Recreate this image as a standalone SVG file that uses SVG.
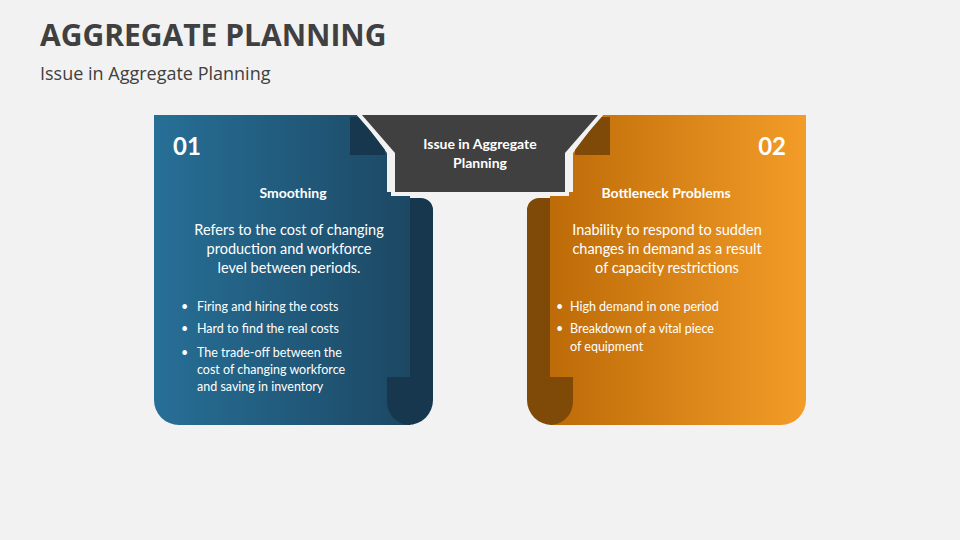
<svg xmlns="http://www.w3.org/2000/svg" width="960" height="540" viewBox="0 0 960 540">
<defs>
<linearGradient id="gb" x1="0" x2="1" y1="0" y2="0"><stop offset="0" stop-color="#276f97"/><stop offset="1" stop-color="#1c4863"/></linearGradient>
<linearGradient id="go" x1="0" x2="1" y1="0" y2="0"><stop offset="0" stop-color="#bd6b08"/><stop offset="1" stop-color="#f39c28"/></linearGradient>
<style>
text{font-family:Lato,"Open Sans","Liberation Sans",sans-serif;fill:#fff}
.t{font-weight:bold;font-size:14px}
.p{font-size:14.5px}
.b{font-size:12.5px}
.n{font-weight:bold;font-size:24px}
</style>
</defs>
<rect width="960" height="540" fill="#f2f2f2"/>
<text x="40" y="46" style="font-family:'Open Sans',sans-serif;font-weight:bold;font-size:30px;fill:#404040">AGGREGATE PLANNING</text>
<text x="40" y="80" style="font-family:'Open Sans',sans-serif;font-size:18px;fill:#404040">Issue in Aggregate Planning</text>

<g id="card1">
<path d="M154,115 H358 L387,153 V192 H410 V425 H179 A25 25 0 0 1 154 400 Z" fill="url(#gb)"/>
<path d="M350,117 H360 L385,150 V155 H350 Z" fill="#16374d"/>
<path d="M410,198 H421 A12 12 0 0 1 433 210 V400 A25 25 0 0 1 408 425 H410 A23 23 0 0 1 387 402 V377 H410 Z" fill="#16374d"/>
<text class="n" x="173" y="155">01</text>
<text class="t" x="293" y="198" text-anchor="middle">Smoothing</text>
<text class="p" text-anchor="middle"><tspan x="289" y="235">Refers to the cost of changing</tspan><tspan x="289" y="254">production and workforce</tspan><tspan x="289" y="273">level between periods.</tspan></text>
<text class="b"><tspan x="181" y="311">•</tspan><tspan x="197" y="311">Firing and hiring the costs</tspan><tspan x="181" y="333">•</tspan><tspan x="197" y="333">Hard to find the real costs</tspan><tspan x="181" y="357">•</tspan><tspan x="197" y="357">The trade-off between the</tspan><tspan x="197" y="374">cost of changing workforce</tspan><tspan x="197" y="391">and saving in inventory</tspan></text>
</g>

<g id="card2">
<path d="M806,115 H602 L573,153 V192 H550 V425 H781 A25 25 0 0 0 806 400 Z" fill="url(#go)"/>
<path d="M610,117 H600 L575,150 V155 H610 Z" fill="#7f4a08"/>
<path d="M550,198 H539 A12 12 0 0 0 527 210 V400 A25 25 0 0 0 552 425 H550 A23 23 0 0 0 573 402 V377 H550 Z" fill="#7f4a08"/>
<text class="n" x="786" y="155" text-anchor="end">02</text>
<text class="t" x="666" y="198" text-anchor="middle">Bottleneck Problems</text>
<text class="p" text-anchor="middle"><tspan x="667" y="235">Inability to respond to sudden</tspan><tspan x="667" y="254">changes in demand as a result</tspan><tspan x="667" y="273">of capacity restrictions</tspan></text>
<text class="b"><tspan x="556" y="311">•</tspan><tspan x="570" y="311">High demand in one period</tspan><tspan x="556" y="333">•</tspan><tspan x="570" y="333">Breakdown of a vital piece</tspan><tspan x="570" y="351">of equipment</tspan></text>
</g>

<g id="center">
<polygon points="362,115 598,115 565,153 565,192 395,192 395,153" fill="#404040" stroke="#f2f2f2" stroke-width="8" stroke-linejoin="miter"/>
<polygon points="362,115 598,115 565,153 565,192 395,192 395,153" fill="#404040"/>
<text class="t" text-anchor="middle"><tspan x="480" y="149">Issue in Aggregate</tspan><tspan x="480" y="168">Planning</tspan></text>
</g>
<g id="connectors"/>
</svg>
